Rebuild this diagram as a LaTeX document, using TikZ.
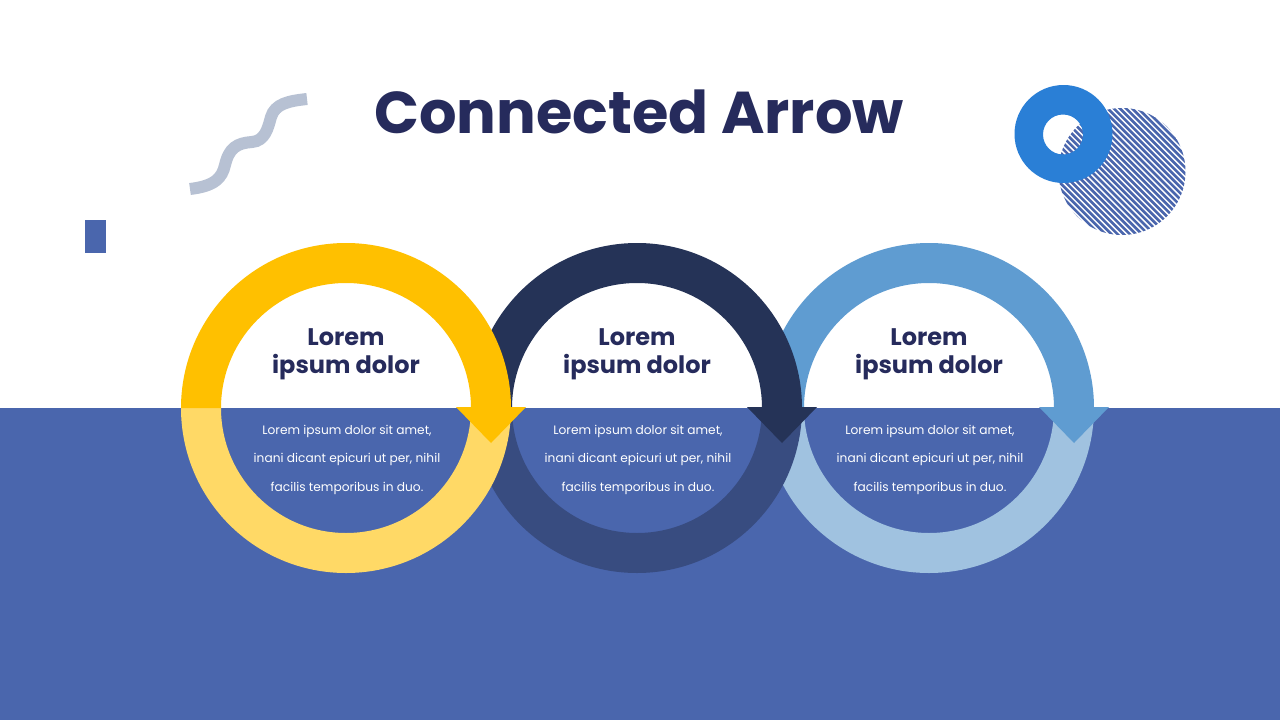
\documentclass[tikz,border=0pt]{standalone}
\usepackage{fontspec}
\setmainfont{Poppins}
\definecolor{bgblue}{HTML}{4A66AD}
\definecolor{yellowA}{HTML}{FFC000}
\definecolor{yellowB}{HTML}{FFD966}
\definecolor{navyA}{HTML}{253357}
\definecolor{navyB}{HTML}{384C80}
\definecolor{lblueA}{HTML}{5F9CD1}
\definecolor{lblueB}{HTML}{A0C2E0}
\definecolor{titlecol}{HTML}{262B5C}
\definecolor{squig}{HTML}{B7C1D3}
\definecolor{ringblue}{HTML}{2A7FD6}
\begin{document}
\begin{tikzpicture}[x=1pt,y=-1pt,
  titletext/.style={anchor=base,inner sep=0pt,text=titlecol,font=\bfseries\fontsize{59}{70}\selectfont},
  headtext/.style={anchor=base,inner sep=0pt,text=titlecol,font=\bfseries\fontsize{24}{29}\selectfont},
  bodytext/.style={anchor=base,inner sep=0pt,text=white,font=\fontsize{12.2}{15}\selectfont}]
\useasboundingbox (0,0) rectangle (1280,720);
\fill[white] (0,0) rectangle (1280,720);
\fill[bgblue] (0,407.5) rectangle (1280,720);
% small rectangle
\fill[bgblue] (85,220) rectangle (106,253);
% squiggle
\draw[squig,line width=12pt] (190,189) .. controls (215,186) and (222,178) .. (225,165)
  .. controls (229,148) and (237,143) .. (252,142)
  .. controls (265,141) and (268,128) .. (271,117)
  .. controls (275,104) and (288,101) .. (307,99);
% striped circle
\begin{scope}
  \clip (1122,171.5) circle[radius=63.5];
  \foreach \i in {-26,...,26}
    \draw[bgblue,line width=2.6pt] (1122+\i*6.1-90,81.5) -- ++(180,180);
\end{scope}
% blue ring
\fill[ringblue,even odd rule] (1063.5,134) circle[radius=49] (1063,134.5) circle[radius=20];
% rings with arrows (drawn right to left so left ones lie on top)
\foreach \cx/\ca/\cb in {929/lblueA/lblueB, 637/navyA/navyB, 346/yellowA/yellowB}{
  \fill[\cb] (\cx+165,408) arc[start angle=0,end angle=180,radius=165]
    -- (\cx-125,408) arc[start angle=180,end angle=0,radius=125] -- cycle;
  \fill[\ca] (\cx-165,408) arc[start angle=180,end angle=360,radius=165]
    -- (\cx+125,408) arc[start angle=360,end angle=180,radius=125] -- cycle;
  \fill[\ca] (\cx+110,407) -- (\cx+180,407) -- (\cx+145,443) -- cycle;
}
% title
\node[titletext] (title) at (639,133) {Connected Arrow};
% texts
\foreach \n/\cx in {1/346,2/637,3/929}{
  \node[headtext] (h\n a) at (\cx,345) {Lorem};
  \node[headtext] (h\n b) at (\cx,373) {ipsum dolor};
  \node[bodytext] (b\n a) at (\cx+1,434) {Lorem ipsum dolor sit amet,};
  \node[bodytext] (b\n b) at (\cx+1,462.5) {inani dicant epicuri ut per, nihil};
  \node[bodytext] (b\n c) at (\cx+1,491) {facilis temporibus in duo.};
}
\end{tikzpicture}
\end{document}
